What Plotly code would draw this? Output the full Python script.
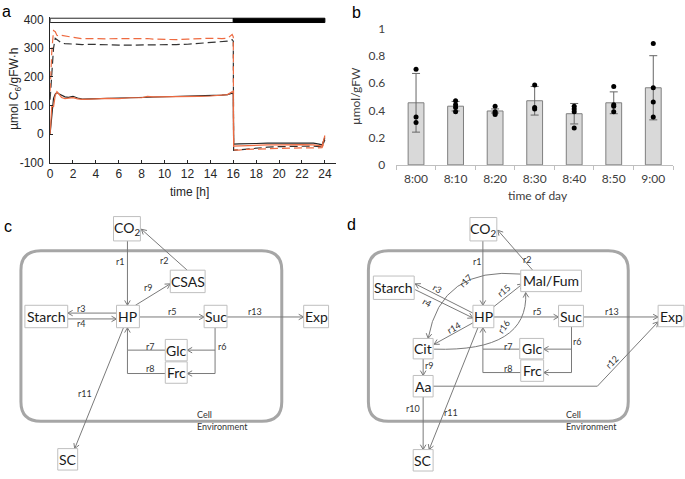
import numpy as np
import plotly.graph_objects as go

W, H = 685, 479

# ---- panel a: C6 flux over the day
hours = [0, 0.15, 0.3, 0.45, 0.6, 0.8, 1.0, 1.3, 1.6, 2.0, 2.4, 2.8, 3.5, 4, 5, 6, 7, 8, 8.5, 9,
         10, 11, 12, 13, 14, 15, 15.5, 15.9, 16.0, 16.03, 16.5, 17, 18, 19, 20, 21, 22, 23, 23.5, 23.75, 24]
black_solid = [0, 70, 125, 140, 145, 140, 136, 130, 128, 132, 126, 122, 123, 124, 125, 126, 127, 128, 131, 130,
               131, 131, 132, 133, 134, 136, 138, 143, 140, -35, -34, -33, -33, -32, -32, -31, -31, -32, -35, -38, -12]
orange_solid = [0, 100, 95, 135, 148, 138, 128, 124, 125, 127, 123, 121, 122, 123, 125, 124, 127, 127, 132, 130,
                130, 131, 131, 132, 133, 135, 138, 148, 145, -42, -41, -40, -39, -38, -38, -37, -37, -38, -40, -42, -5]
black_dash = [120, 220, 300, 335, 330, 322, 318, 316, 315, 314, 313, 313, 314, 313, 312, 311, 311, 311, 312, 311,
              311, 313, 314, 317, 319, 322, 325, 330, 325, -57, -55, -52, -48, -46, -44, -43, -42, -42, -44, -45, -20]
orange_dash = [150, 290, 362, 358, 345, 342, 345, 343, 340, 336, 334, 333, 334, 333, 333, 334, 334, 335, 334, 332,
               330, 330, 332, 334, 335, 334, 335, 348, 340, -55, -56, -54, -52, -50, -50, -49, -48, -47, -46, -48, -25]

# ---- panel b: metabolite content per time of day
times = ["8:00", "8:10", "8:20", "8:30", "8:40", "8:50", "9:00"]
means = [0.455, 0.43, 0.395, 0.47, 0.375, 0.455, 0.565]
sds = [0.215, 0.035, 0.015, 0.105, 0.075, 0.08, 0.235]
replicates = [[0.70, 0.35, 0.31],
              [0.47, 0.44, 0.42, 0.39],
              [0.43, 0.39, 0.38, 0.37],
              [0.585, 0.42, 0.41],
              [0.43, 0.41, 0.39, 0.27],
              [0.575, 0.44, 0.43, 0.39],
              [0.89, 0.565, 0.46, 0.35]]

# ---- panels c/d: network boxes in pixel coordinates (x0, y0, x1, y1)
boxes_c = {
    "CO<sub>2</sub>": (111, 217, 138, 242), "CSAS": (168, 272, 203, 295), "Starch": (22, 308, 65, 331),
    "HP": (114, 308, 137, 331), "Suc": (202, 308, 225, 331), "Exp": (302, 308, 327, 331),
    "Glc": (163, 343, 185, 365), "Frc": (163, 366, 185, 388), "SC": (55, 455, 75, 477),
}
boxes_d = {
    "CO<sub>2</sub>": (469, 218, 496, 242), "Mal/Fum": (520, 272, 581, 294), "Starch": (372, 278, 413, 302),
    "HP": (472, 308, 493, 331), "Suc": (558, 308, 583, 330), "Exp": (658, 308, 684, 330),
    "Cit": (412, 342, 432, 363), "Glc": (519, 342, 543, 363), "Frc": (520, 364, 543, 386),
    "Aa": (412, 380, 432, 402), "SC": (412, 456, 432, 478),
}
# polylines, last point gets an arrow head (flag)
edges_c = [
    ([(125, 242), (125, 308)], True), ([(185, 272), (139, 230)], True), ([(133, 308), (168, 286)], True),
    ([(114, 316), (65, 316)], True), ([(65, 322), (114, 322)], True), ([(137, 320), (202, 320)], True),
    ([(225, 320), (302, 320)], True), ([(213, 331), (213, 378), (185, 378)], True),
    ([(213, 354), (185, 354)], True), ([(163, 354), (125, 354), (125, 331)], True),
    ([(163, 378), (125, 378), (125, 354)], False), ([(121, 331), (72, 455)], True),
]
edges_d = [
    ([(482, 242), (482, 308)], True), ([(532, 272), (497, 231)], True), ([(491, 311), (522, 286)], True),
    ([(472, 316), (414, 286)], True), ([(414, 292), (472, 321)], True), ([(472, 326), (433, 348)], True),
    ([(493, 320), (558, 320)], True), ([(583, 320), (658, 320)], True),
    ([(571, 330), (571, 377), (543, 377)], True), ([(571, 353), (543, 353)], True),
    ([(519, 353), (482, 353), (482, 331)], True), ([(520, 377), (482, 377), (482, 353)], False),
    ([(422, 363), (422, 380)], True), ([(432, 391), (597, 391), (658, 325)], True),
    ([(422, 402), (422, 456)], True), ([(477, 331), (428, 456)], True),
]
curves_d = [((520, 276), (440, 268), (427, 342)), ((433, 353), (528, 356), (525, 295))]
labels_c = [("r1", 118, 263, 0), ("r2", 162, 262, 0), ("r9", 146, 290, 0), ("r3", 79, 311, 0),
            ("r4", 79, 327, 0), ("r5", 170, 314, 0), ("r13", 253, 314, 0), ("r7", 148, 350, 0),
            ("r6", 220, 350, 0), ("r8", 148, 373, 0), ("r11", 82, 398, 0)]
labels_d = [("r1", 477, 263, 0), ("r2", 527, 261, 0), ("r17", 465, 283, -45), ("r15", 503, 293, -40),
            ("r3", 436, 291, 30), ("r4", 426, 305, 30), ("r5", 537, 314, 0), ("r13", 612, 314, 0),
            ("r14", 453, 331, -30), ("r16", 503, 330, -55), ("r6", 577, 345, 0), ("r7", 508, 350, 0),
            ("r8", 508, 373, 0), ("r9", 428, 370, 0), ("r12", 612, 366, -45), ("r10", 412, 414, 0),
            ("r11", 450, 418, 0)]
cells = [(18, 252, 280, 427), (367, 252, 628, 427)]

LINE = "#7a7a7a"
DIAG_FONT = "Lato"


def P(x, y):
    return f"{x / W:.5f},{1 - y / H:.5f}"


def arrow_head(a, b, length=5, half=2.8):
    a, b = np.array(a, float), np.array(b, float)
    u = (b - a) / np.linalg.norm(b - a)
    n = np.array([-u[1], u[0]])
    p1 = b - length * u + half * n
    p2 = b - length * u - half * n
    return dict(type="path", xref="paper", yref="paper", line=dict(color=LINE, width=1),
                path=f"M {P(*p1)} L {P(*b)} L {P(*p2)}")


def text(txt, x, y, size, color, family=DIAG_FONT, angle=0, xanchor="center"):
    return dict(text=txt, x=x / W, y=1 - y / H, xref="paper", yref="paper", showarrow=False,
                xanchor=xanchor, yanchor="middle", textangle=angle,
                font=dict(family=family, size=size, color=color))


fig = go.Figure()

# panel a
for y, col, dash in [(black_dash, "#333333", "8px,4px"), (orange_dash, "#ee6a40", "8px,4px"),
                     (black_solid, "#262626", "solid"), (orange_solid, "#ee6a40", "solid")]:
    fig.add_trace(go.Scatter(x=hours, y=y, mode="lines", line=dict(color=col, width=1.2, dash=dash),
                             xaxis="x", yaxis="y", showlegend=False))

# panel b
fig.add_trace(go.Bar(x=times, y=means, width=0.4, xaxis="x2", yaxis="y2",
                     marker=dict(color="#d9d9d9", line=dict(color="#7f7f7f", width=1)),
                     error_y=dict(type="data", array=sds, color="#666666", thickness=1, width=4),
                     showlegend=False))
dot_x = [t for t, reps in zip(times, replicates) for _ in reps]
dot_y = [v for reps in replicates for v in reps]
fig.add_trace(go.Scatter(x=dot_x, y=dot_y, mode="markers", marker=dict(color="black", size=5),
                         xaxis="x2", yaxis="y2", showlegend=False))

shapes = [
    dict(type="rect", xref="x", yref="y", x0=0, x1=16, y0=390, y1=405, fillcolor="white",
         line=dict(color="#262626", width=1)),
    dict(type="rect", xref="x", yref="y", x0=16, x1=24, y0=390, y1=405, fillcolor="black",
         line=dict(color="black", width=1)),
]

# cell outlines
for x0, y0, x1, y1 in cells:
    r = 20
    path = (f"M {P(x0 + r, y0)} L {P(x1 - r, y0)} Q {P(x1, y0)} {P(x1, y0 + r)} "
            f"L {P(x1, y1 - r)} Q {P(x1, y1)} {P(x1 - r, y1)} L {P(x0 + r, y1)} "
            f"Q {P(x0, y1)} {P(x0, y1 - r)} L {P(x0, y0 + r)} Q {P(x0, y0)} {P(x0 + r, y0)} Z")
    shapes.append(dict(type="path", xref="paper", yref="paper", path=path,
                       line=dict(color="#a6a6a6", width=3)))

for pts, head in edges_c + edges_d:
    path = "M " + " L ".join(P(*p) for p in pts)
    shapes.append(dict(type="path", xref="paper", yref="paper", path=path, line=dict(color=LINE, width=1)))
    if head:
        shapes.append(arrow_head(pts[-2], pts[-1]))
for p0, c, p1 in curves_d:
    shapes.append(dict(type="path", xref="paper", yref="paper", line=dict(color=LINE, width=1),
                       path=f"M {P(*p0)} Q {P(*c)} {P(*p1)}"))
    shapes.append(arrow_head(c, p1))

annotations = []
for boxes in (boxes_c, boxes_d):
    for name, (x0, y0, x1, y1) in boxes.items():
        shapes.append(dict(type="rect", xref="paper", yref="paper", x0=x0 / W, x1=x1 / W,
                           y0=1 - y1 / H, y1=1 - y0 / H, fillcolor="white",
                           line=dict(color="#bfbfbf", width=1)))
        annotations.append(text(name, (x0 + x1) / 2, (y0 + y1) / 2, 14, "#1a1a1a"))

for txt, x, y, ang in labels_c + labels_d:
    annotations.append(text(txt, x, y, 9, "#333333", angle=ang))
for cx in (193, 563):
    annotations.append(text("Cell", cx, 420, 9, "#333333", xanchor="left"))
    annotations.append(text("Environment", cx, 432, 9, "#333333", xanchor="left"))

# panel letters and axis titles
for letter, x, y in [("a", 4, 7), ("b", 355, 8), ("c", 5, 227), ("d", 350, 225)]:
    annotations.append(text(letter, x, y, 16, "black", family="Liberation Sans"))
annotations += [
    text("µmol C<sub>6</sub>/gFW·h", 12, 86, 12, "#262626", family="Liberation Sans", angle=-90),
    text("time [h]", 187, 192, 12, "#262626", family="Liberation Sans"),
    text("µmol/gFW", 354, 93, 12, "#404040", angle=-90),
    text("time of day", 537, 195, 12, "#404040"),
]

fig.update_layout(
    width=W, height=H, margin=dict(l=0, r=0, t=0, b=0),
    paper_bgcolor="white", plot_bgcolor="white", showlegend=False,
    xaxis=dict(domain=[47.3 / W, 334.8 / W], range=[0, 25], tickvals=list(range(0, 25, 2)),
               ticks="inside", ticklen=3, tickcolor="#262626", showline=True, linecolor="#262626",
               showgrid=False, zeroline=False,
               tickfont=dict(family="Liberation Sans", size=12, color="#262626")),
    yaxis=dict(domain=[1 - 161.7 / H, 1 - 12.1 / H], range=[-100, 410],
               tickvals=[-100, 0, 100, 200, 300, 400], ticktext=["-100", "0", "100", "200", "300", "400"],
               ticks="inside", ticklen=3, tickcolor="#262626", showline=True, linecolor="#262626",
               showgrid=False, zeroline=False, ticklabelstandoff=3,
               tickfont=dict(family="Liberation Sans", size=12, color="#262626")),
    xaxis2=dict(domain=[395 / W, 673 / W], type="category", range=[-0.5, 6.5], tickson="boundaries",
                ticks="outside", ticklen=4, tickcolor="#bfbfbf", showline=True, linecolor="#bfbfbf",
                showgrid=False, anchor="y2", ticklabelstandoff=3,
                tickfont=dict(family=DIAG_FONT, size=12, color="#404040")),
    yaxis2=dict(domain=[1 - 164 / H, 1 - 21.2 / H], range=[0, 1.02], tickvals=[0, 0.2, 0.4, 0.6, 0.8, 1],
                ticktext=["0", "0.2", "0.4", "0.6", "0.8", "1"], showline=False, showgrid=False,
                zeroline=False, anchor="x2", ticklabelstandoff=10,
                tickfont=dict(family=DIAG_FONT, size=12, color="#404040")),
    shapes=shapes, annotations=annotations,
)

# the page body has a default 8px margin; drop it so the figure sits at the window corner
fig.write_html("out.html", config={"displayModeBar": False},
               post_script="document.body.style.margin='0px';")
